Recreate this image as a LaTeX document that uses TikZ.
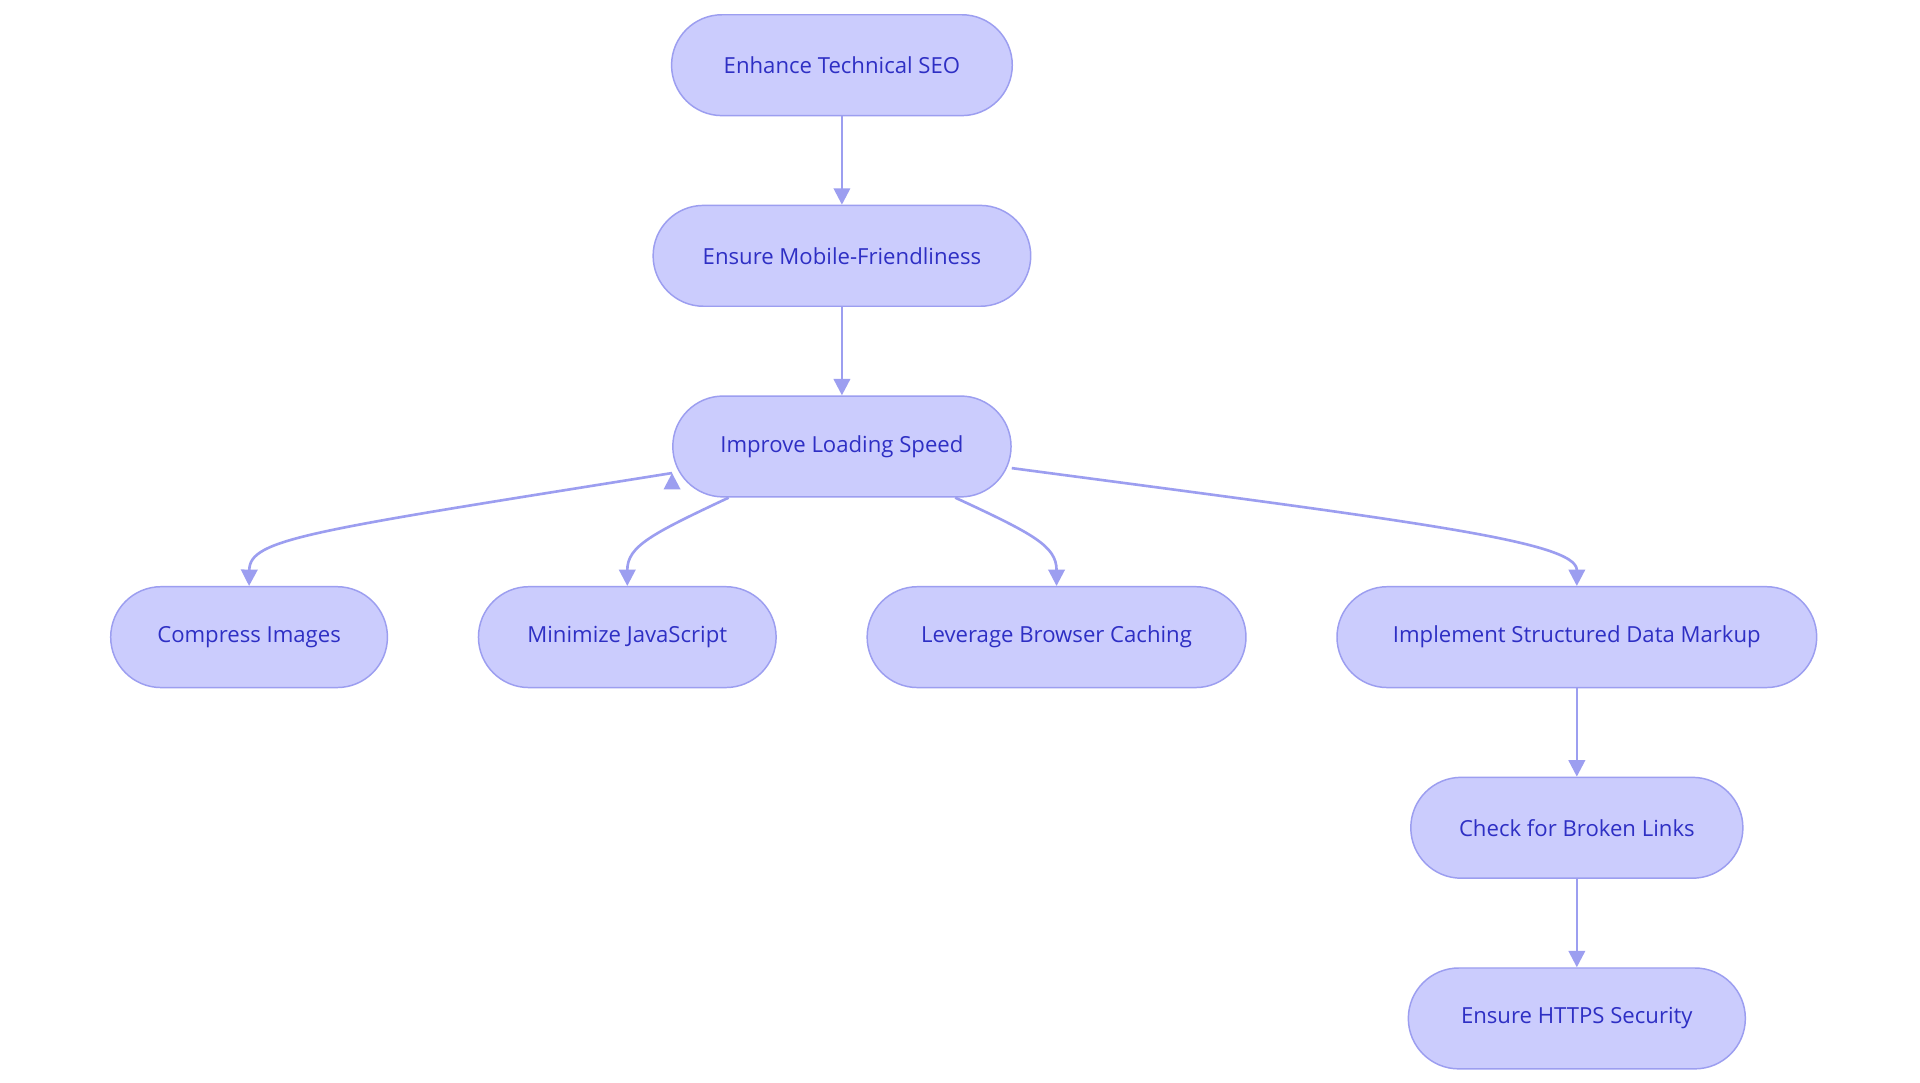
\documentclass[tikz,border=0pt]{standalone}
\usepackage{fontspec}
\setmainfont{Open Sans}
\usetikzlibrary{arrows.meta}
\definecolor{nfill}{HTML}{CBCCFD}
\definecolor{nline}{HTML}{9C9EF0}
\definecolor{ntext}{HTML}{2E2FC4}
\begin{document}
\begin{tikzpicture}[x=0.75pt,y=-0.75pt,
 box/.style={draw=nline,fill=nfill,line width=0.9pt,rounded corners=30.75pt,minimum height=61.5pt,text=ntext,font=\fontsize{13.5}{16}\selectfont,inner sep=0pt},
 arr/.style={draw=nline,line width=1.6pt,-{Triangle[length=10pt,width=10pt]}}]
\useasboundingbox[fill=white] (0,0) rectangle (1561,880);
\node[box,minimum width=207.75pt] (A) at (684.5,53) {Enhance Technical SEO};
\node[box,minimum width=230.25pt] (B) at (684.5,208) {Ensure Mobile-Friendliness};
\node[box,minimum width=206.25pt] (C) at (684.5,363) {Improve Loading Speed};
\node[box,minimum width=168.75pt] (D) at (202.5,518) {Compress Images};
\node[box,minimum width=181.5pt] (E) at (510,518) {Minimize JavaScript};
\node[box,minimum width=231pt] (F) at (859,518) {Leverage Browser Caching};
\node[box,minimum width=292.5pt] (G) at (1282,518) {Implement Structured Data Markup};
\node[box,minimum width=202.5pt] (H) at (1282,673) {Check for Broken Links};
\node[box,minimum width=205.5pt] (I) at (1282,828) {Ensure HTTPS Security};
\draw[arr] (A) -- (B);
\draw[arr] (B) -- (C);
\draw[arr] (C.south west) ++(0,-20) coordinate (c1);
\draw[arr] ([yshift=15pt]C.south west) .. controls (250,432) and (203,438) .. (D.north);
\draw[arr] ([xshift=34.5pt]C.south west) .. controls (530,434) and (510,444) .. (E.north);
\draw[arr] ([xshift=-34.5pt]C.south east) .. controls (840,434) and (859,444) .. (F.north);
\draw[arr] ([yshift=18pt]C.south east) .. controls (1150,424) and (1282,440) .. (G.north);
\draw[arr] (G) -- (H);
\draw[arr] (H) -- (I);
\end{tikzpicture}
\end{document}
